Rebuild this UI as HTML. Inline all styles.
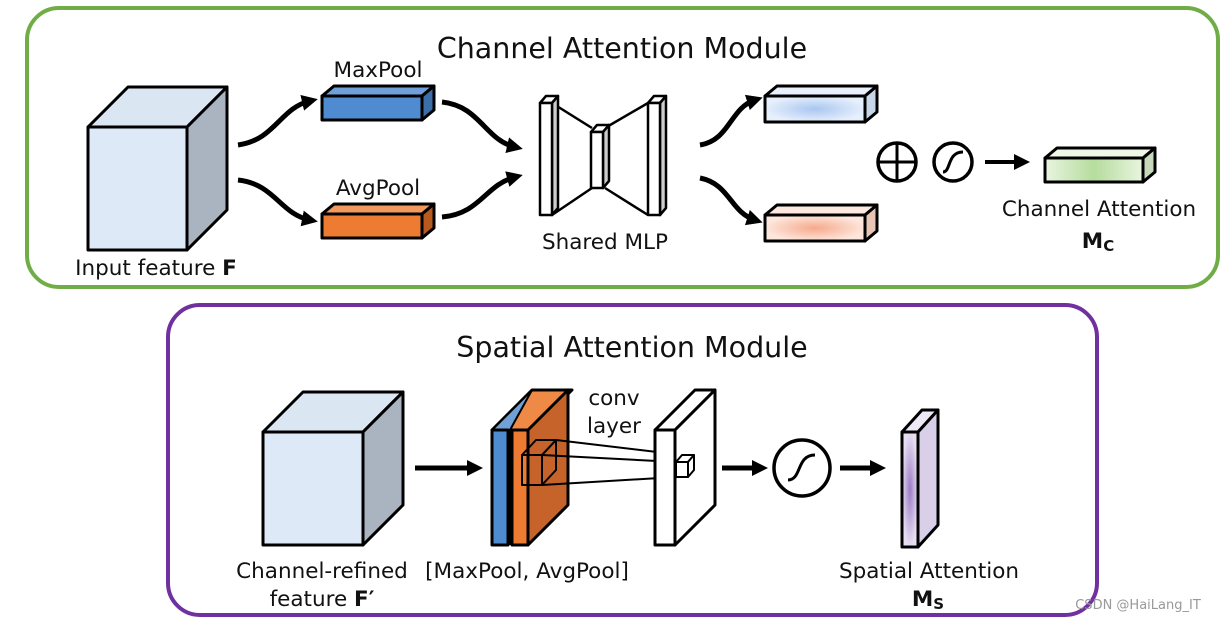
<!DOCTYPE html>
<html><head><meta charset="utf-8"><style>body{margin:0;background:#fff}svg{display:block}text{font-family:"DejaVu Sans","Liberation Sans",sans-serif;fill:#111}</style></head>
<body>
<svg width="1222" height="623" viewBox="0 0 1222 623" xmlns="http://www.w3.org/2000/svg">
<defs>
<marker id="ah2" markerWidth="16" markerHeight="16" refX="8" refY="8" orient="auto" markerUnits="userSpaceOnUse" viewBox="0 0 16 16"><path d="M0,0 L16,8 L0,16 z" fill="#000"/></marker>
<radialGradient id="gb"><stop offset="0" stop-color="#a9c6f0"/><stop offset="1" stop-color="#e6effc"/></radialGradient>
<radialGradient id="gp"><stop offset="0" stop-color="#f6a98c"/><stop offset="1" stop-color="#fde6dc"/></radialGradient>
<linearGradient id="gg" x1="0" x2="1"><stop offset="0" stop-color="#e9f5e0"/><stop offset=".5" stop-color="#b5dc9d"/><stop offset="1" stop-color="#e9f5e0"/></linearGradient>
<radialGradient id="gv"><stop offset="0" stop-color="#9b7cc4"/><stop offset="1" stop-color="#e7def2"/></radialGradient>
</defs>
<g stroke="#000" stroke-width="3" stroke-linejoin="round">
<rect x="27" y="8" width="1191" height="279" rx="32" fill="none" stroke="#70ad47" stroke-width="4"/>
<rect x="168" y="305" width="929" height="310" rx="32" fill="none" stroke="#7030a0" stroke-width="4"/>

<polygon points="88,127 128,87 227,87 187,127" fill="#dbe6f3"/>
<polygon points="187,127 227,87 227,210 187,250" fill="#aab4c0"/>
<rect x="88" y="127" width="99" height="123" fill="#dde9f7"/>

<polygon points="322,96 334,86 434,86 422,96" fill="#6fa0d8"/>
<polygon points="422,96 434,86 434,110 422,120" fill="#3c6ea8"/>
<rect x="322" y="96" width="100" height="24" fill="#4f8bd0"/>
<polygon points="322,214 334,204 434,204 422,214" fill="#f29a5e"/>
<polygon points="422,214 434,204 434,228 422,238" fill="#b85a1e"/>
<rect x="322" y="214" width="100" height="24" fill="#ee7b32"/>

<g fill="none" stroke-width="5">
<path d="M238,145 C275,140 280,108 310,101" marker-end="url(#ah2)"/>
<path d="M238,180 C275,184 280,214 310,220" marker-end="url(#ah2)"/>
<path d="M442,102 C480,106 485,140 515,147" marker-end="url(#ah2)"/>
<path d="M442,217 C480,214 485,185 515,177" marker-end="url(#ah2)"/>
<path d="M700,145 C730,140 730,108 755,100" marker-end="url(#ah2)"/>
<path d="M700,178 C730,184 730,212 755,220" marker-end="url(#ah2)"/>
</g>

<g stroke-width="2.5">
<line x1="552" y1="103" x2="592" y2="128"/><line x1="552" y1="215" x2="592" y2="188"/>
<line x1="648" y1="103" x2="605" y2="128"/><line x1="648" y1="215" x2="605" y2="188"/>
<polygon points="540,103 546,96 558,96 552,103" fill="#fff"/>
<polygon points="552,103 558,96 558,208 552,215" fill="#ccc"/>
<rect x="540" y="103" width="12" height="112" fill="#fff"/>
<polygon points="591,132 597,125 609,125 603,132" fill="#fff"/>
<polygon points="603,132 609,125 609,181 603,188" fill="#ccc"/>
<rect x="591" y="132" width="12" height="56" fill="#fff"/>
<polygon points="648,103 654,96 666,96 660,103" fill="#fff"/>
<polygon points="660,103 666,96 666,208 660,215" fill="#ccc"/>
<rect x="648" y="103" width="12" height="112" fill="#fff"/>
</g>

<polygon points="765,96 777,86 877,86 865,96" fill="#e8f0fc"/>
<polygon points="865,96 877,86 877,112 865,122" fill="#c8d6ea"/>
<rect x="765" y="96" width="100" height="26" fill="url(#gb)"/>
<polygon points="765,215 777,205 877,205 865,215" fill="#fde8df"/>
<polygon points="865,215 877,205 877,231 865,241" fill="#e8c4b4"/>
<rect x="765" y="215" width="100" height="26" fill="url(#gp)"/>

<circle cx="897" cy="162" r="19" fill="none" stroke-width="3.5"/>
<line x1="897" y1="144" x2="897" y2="180"/><line x1="879" y1="162" x2="915" y2="162"/>
<circle cx="953" cy="162" r="19" fill="none" stroke-width="3.5"/>
<path d="M943,172 C951,172 947,152 963,152" fill="none"/>
<line x1="985" y1="162" x2="1022" y2="162" stroke-width="4" marker-end="url(#ah2)"/>
<polygon points="1045,158 1057,148 1155,148 1143,158" fill="#eef7e8"/>
<polygon points="1143,158 1155,148 1155,172 1143,182" fill="#c7d9bb"/>
<rect x="1045" y="158" width="98" height="24" fill="url(#gg)"/>

<polygon points="263,432 303,392 403,392 363,432" fill="#dbe6f3"/>
<polygon points="363,432 403,392 403,505 363,545" fill="#aab4c0"/>
<rect x="263" y="432" width="100" height="113" fill="#dde9f7"/>
<line x1="415" y1="468" x2="475" y2="468" stroke-width="5" marker-end="url(#ah2)"/>

<polygon points="492,430 532,390 572,390 532,430" fill="#ee8a46"/>
<polygon points="492,430 510,412 532,390 510,430" fill="#6fa0d8" stroke-width="2"/>
<polygon points="528,430 568,390 568,505 528,545" fill="#c5632a"/>
<rect x="492" y="430" width="16" height="115" fill="#4f8bd0"/>
<rect x="512" y="430" width="16" height="115" fill="#ee7b32"/>
<line x1="510" y1="430" x2="510" y2="545" stroke-width="4"/>
<g stroke-width="2" fill="none">
<rect x="522" y="455" width="20" height="30"/>
<polygon points="522,455 536,440 556,440 542,455"/>
<polygon points="542,455 556,440 556,470 542,485"/>
<line x1="556" y1="440" x2="682" y2="455"/><line x1="542" y1="455" x2="676" y2="462"/>
<line x1="542" y1="485" x2="676" y2="477"/>
</g>
<polygon points="655,430 695,390 715,390 675,430" fill="#fff"/>
<polygon points="675,430 715,390 715,505 675,545" fill="#fff"/>
<rect x="655" y="430" width="20" height="115" fill="#fff"/>
<g stroke-width="2" fill="#fff">
<rect x="676" y="462" width="12" height="15"/>
<polygon points="676,462 682,455 694,455 688,462"/>
<polygon points="688,462 694,455 694,470 688,477"/>
</g>
<line x1="722" y1="468" x2="760" y2="468" stroke-width="5" marker-end="url(#ah2)"/>
<circle cx="802" cy="468" r="28" fill="none" stroke-width="3.5"/>
<path d="M788,480 C802,480 796,455 815,455" fill="none"/>
<line x1="840" y1="468" x2="878" y2="468" stroke-width="5" marker-end="url(#ah2)"/>
<polygon points="902,432 922,410 938,410 918,432" fill="#efe9f7"/>
<polygon points="918,432 938,410 938,525 918,547" fill="#d9cfe8"/>
<rect x="902" y="432" width="16" height="115" fill="url(#gv)"/>
</g>

<g font-size="28.5" text-anchor="middle">
<text x="622" y="58">Channel Attention Module</text>
<text x="632" y="357">Spatial Attention Module</text>
</g>
<g font-size="21.5" text-anchor="middle">
<text x="378" y="77">MaxPool</text>
<text x="378" y="195">AvgPool</text>
<text x="605" y="249">Shared MLP</text>
<text x="156" y="275">Input feature <tspan font-weight="bold">F</tspan></text>
<text x="1099" y="216">Channel Attention</text>
<text x="1098" y="248" font-weight="bold">M<tspan font-size="15" dy="3">C</tspan></text>
<text x="614" y="405">conv</text>
<text x="614" y="433">layer</text>
<text x="322" y="578">Channel-refined</text>
<text x="322" y="606">feature <tspan font-weight="bold">F′</tspan></text>
<text x="527" y="578">[MaxPool, AvgPool]</text>
<text x="929" y="578">Spatial Attention</text>
<text x="928" y="606" font-weight="bold">M<tspan font-size="15" dy="3">S</tspan></text>
</g>
<text x="1138" y="609" font-size="13" text-anchor="middle" style="fill:#999">CSDN @HaiLang_IT</text>
</svg>
</body></html>
